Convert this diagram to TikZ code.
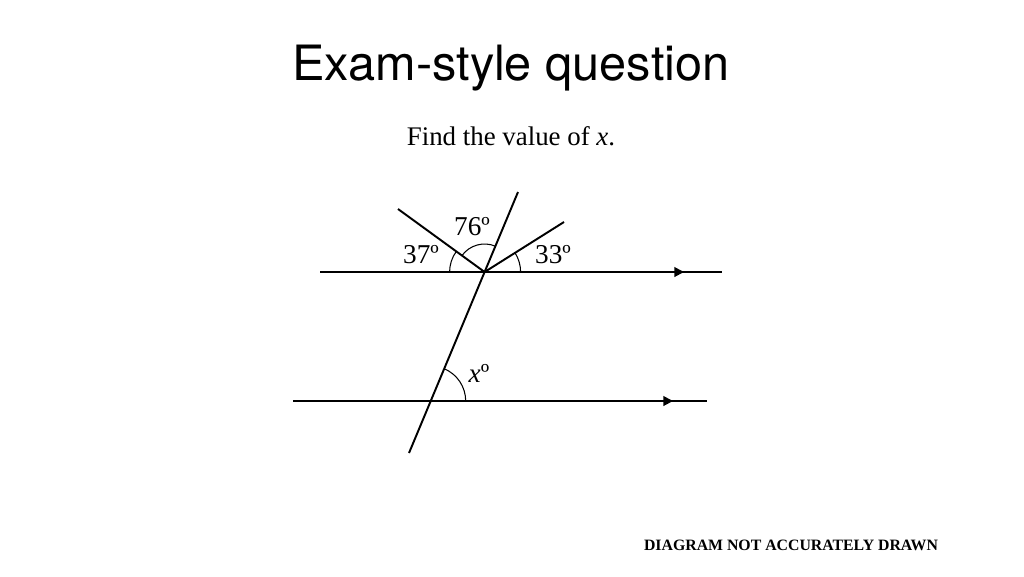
\documentclass[tikz,border=0pt]{standalone}
\usepackage{fontspec}
\setmainfont{Liberation Serif}
\newfontfamily\headfont{TeX Gyre Heros}
\usepackage{tikz}
\usetikzlibrary{arrows.meta, angles, positioning}
\tikzset{
  titlenode/.style={anchor=base, font=\headfont\fontsize{27.7}{32}\selectfont},
  asknode/.style={anchor=base, font=\fontsize{15.3}{18}\selectfont},
  notenode/.style={anchor=base, font=\bfseries\fontsize{9}{11}\selectfont},
  anglenode/.style={font=\fontsize{15.5}{18}\selectfont, inner sep=0pt},
  line/.style={line width=1.1pt},
  arrowline/.style={line width=1.1pt, -{Triangle[length=5.5pt, width=5.5pt]}},
  anglearc/.style={draw, line width=0.6pt}
}
\begin{document}
\begin{tikzpicture}[x=0.02cm, y=-0.02cm]
\useasboundingbox (0,0) rectangle (1024,576);

% Texts
\node[titlenode] (TITLE) at (511,80) {Exam-style question};
\node[asknode] (ASK) at (511,145) {Find the value of \textit{x}.};
\node[notenode] (NOTE) at (791,550) {DIAGRAM NOT ACCURATELY DRAWN};

% Points
\coordinate (O) at (484.6,272);
\coordinate (P) at (430.7,401);
\coordinate (TT) at (518,192);
\coordinate (TB) at (409,453);
\coordinate (L1) at (320,272);
\coordinate (A1) at (684,272);
\coordinate (R1) at (722,272);
\coordinate (L2) at (293,401);
\coordinate (A2) at (673,401);
\coordinate (R2) at (707,401);
\coordinate (UL) at (398,209);
\coordinate (UR) at (564,222);

% Lines
\draw[line] (L1) -- (R1);
\draw[arrowline] (L1) -- (A1);
\draw[line] (L2) -- (R2);
\draw[arrowline] (L2) -- (A2);
\draw[line] (TT) -- (TB);
\draw[line] (O) -- (UL);
\draw[line] (O) -- (UR);

% Angles
\pic[anglearc, angle radius=0.7cm] {angle = UL--O--L1};
\pic[anglearc, angle radius=0.56cm] {angle = TT--O--UL};
\pic[anglearc, angle radius=0.72cm] {angle = R1--O--UR};
\pic[anglearc, angle radius=0.7cm] {angle = R2--P--O};

\node[anglenode] (A37) at (421,255) {37º};
\node[anglenode] (A76) at (472,227) {76º};
\node[anglenode] (A33) at (553,255) {33º};
\node[anglenode] (AX) at (479,373) {\textit{x}º};

\end{tikzpicture}
\end{document}
